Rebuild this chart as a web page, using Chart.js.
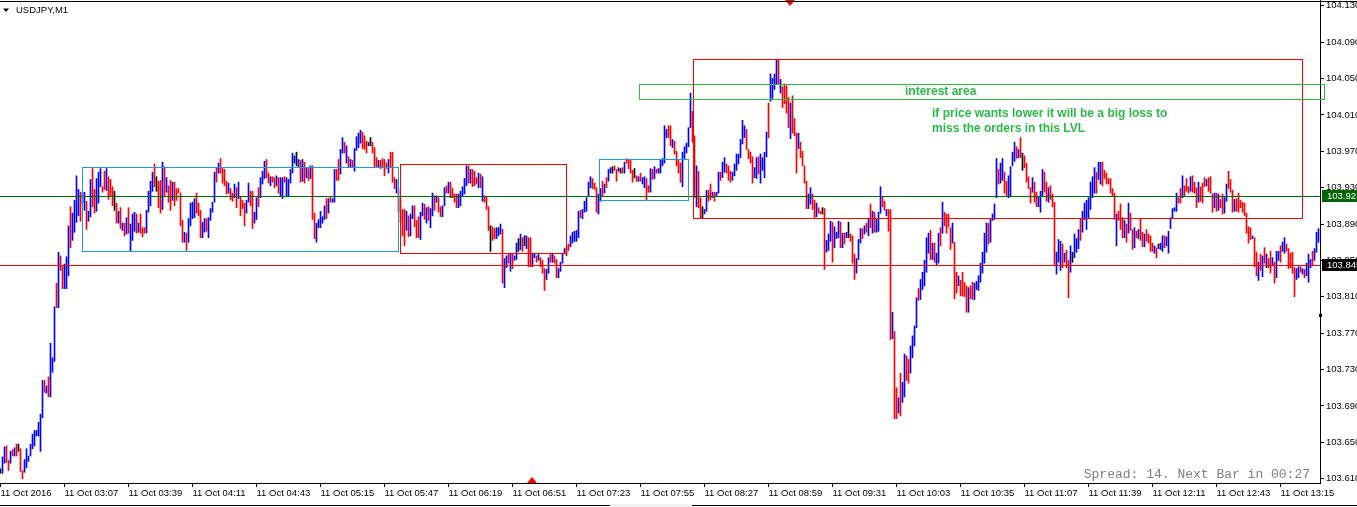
<!DOCTYPE html>
<html>
<head>
<meta charset="utf-8">
<script src="https://cdn.jsdelivr.net/npm/chart.js@4.4.1/dist/chart.umd.min.js"></script>
<style>
  html, body { margin: 0; padding: 0; background: #fff; }
  #wrap { width: 1357px; height: 507px; position: relative; }
</style>
</head>
<body>
<div id="wrap"><canvas id="Chart"></canvas></div>
<script>
// USDJPY M1, one bar per minute starting 11 Oct 2016 02:35
const timeTicks = ['11 Oct 2016','11 Oct 03:07','11 Oct 03:39','11 Oct 04:11','11 Oct 04:43','11 Oct 05:15','11 Oct 05:47',
  '11 Oct 06:19','11 Oct 06:51','11 Oct 07:23','11 Oct 07:55','11 Oct 08:27','11 Oct 08:59','11 Oct 09:31','11 Oct 10:03',
  '11 Oct 10:35','11 Oct 11:07','11 Oct 11:39','11 Oct 12:11','11 Oct 12:43','11 Oct 13:15'];
const tickEvery = 32;

const priceTicks = [104.130, 104.090, 104.050, 104.010, 103.970, 103.930, 103.890, 103.850, 103.810, 103.770, 103.730, 103.690, 103.650, 103.610];

const highs = [
  103.621,103.634,103.645,103.646,103.630,103.640,103.642,103.644,103.648,103.648,
  103.643,103.619,103.631,103.643,103.635,103.648,103.659,103.663,103.663,103.672,
  103.681,103.718,103.718,103.712,103.722,103.759,103.743,103.799,103.825,103.859,
  103.855,103.844,103.846,103.854,103.888,103.909,103.902,103.916,103.943,103.928,
  103.925,103.924,103.925,103.915,103.904,103.939,103.951,103.928,103.940,103.947,
  103.951,103.931,103.948,103.951,103.942,103.939,103.931,103.926,103.913,103.904,
  103.908,103.891,103.891,103.897,103.908,103.890,103.901,103.903,103.901,103.891,
  103.901,103.886,103.886,103.905,103.926,103.937,103.947,103.956,103.942,103.937,
  103.938,103.958,103.953,103.941,103.932,103.938,103.936,103.936,103.929,103.929,
  103.924,103.894,103.881,103.880,103.896,103.913,103.914,103.918,103.924,103.913,
  103.905,103.892,103.896,103.896,103.897,103.907,103.914,103.947,103.952,103.957,
  103.962,103.951,103.950,103.937,103.935,103.929,103.924,103.934,103.930,103.936,
  103.920,103.916,103.913,103.916,103.935,103.926,103.926,103.903,103.919,103.930,
  103.941,103.948,103.959,103.961,103.946,103.942,103.942,103.941,103.943,103.941,
  103.941,103.941,103.942,103.941,103.939,103.950,103.968,103.965,103.969,103.961,
  103.960,103.961,103.958,103.952,103.951,103.954,103.954,103.902,103.891,103.895,
  103.904,103.898,103.910,103.918,103.918,
  103.920,103.918,103.950,103.950,103.961,103.972,103.985,103.980,103.976,103.964,
  103.961,103.960,103.973,103.986,103.990,103.993,103.991,103.987,103.981,103.980,
  103.985,103.980,103.974,103.963,103.960,103.960,103.962,103.961,103.957,103.961,
  103.969,103.969,103.941,103.939,103.929,103.918,103.906,103.906,103.904,103.899,
  103.901,103.910,103.910,103.894,103.898,103.903,103.913,103.912,103.908,103.909,
  103.907,103.924,103.921,103.921,103.919,103.909,103.910,103.930,103.932,103.936,
  103.936,103.929,103.923,103.923,103.923,103.926,103.931,103.940,103.954,103.954,
  103.950,103.950,103.948,103.941,103.946,103.945,103.942,103.921,103.920,103.909,
  103.888,103.887,103.885,103.886,103.886,103.890,103.884,103.852,103.855,103.858,
  103.857,103.858,103.855,103.869,103.874,103.879,103.875,103.877,103.877,103.875,
  103.875,103.858,103.857,103.855,103.858,103.853,103.850,103.841,103.840,103.853,
  103.858,103.857,103.855,103.851,103.841,103.848,103.858,103.863,103.865,103.868,
  103.877,103.881,103.882,103.883,103.904,103.905,103.906,103.915,103.919,103.936,
  103.942,103.940,103.935,103.930,103.923,103.929,103.937,103.934,103.941,103.950,
  103.952,103.953,103.954,103.950,103.952,103.951,103.952,103.958,103.962,103.961,
  103.960,103.949,103.951,103.943,103.942,103.946,103.941,103.942,103.940,103.932,
  103.951,103.950,103.953,103.950,103.951,
  103.961,103.962,103.998,103.994,103.998,103.998,103.983,103.981,103.970,103.960,
  103.957,103.969,103.975,103.979,103.996,104.034,104.014,103.987,103.954,103.948,
  103.919,103.909,103.906,103.927,103.927,103.934,103.925,103.925,103.925,103.947,
  103.947,103.958,103.963,103.956,103.954,103.948,103.947,103.956,103.967,103.967,
  103.983,104.004,103.998,103.994,103.972,103.969,103.964,103.952,103.963,103.964,
  103.967,103.963,103.969,103.991,104.023,104.055,104.050,104.055,104.070,104.071,
  104.049,104.041,104.044,104.042,104.029,104.023,104.031,104.006,103.990,103.990,
  103.980,103.970,103.954,103.937,103.923,103.930,103.923,103.916,103.913,103.908,
  103.904,103.908,103.907,103.872,103.879,103.893,103.892,103.887,103.881,103.893,
  103.892,103.880,103.880,103.881,103.892,103.879,103.877,103.857,103.852,103.873,
  103.885,103.885,103.888,103.891,103.896,103.912,103.904,103.903,103.895,103.903,
  103.931,103.920,103.915,103.906,103.906,103.906,103.793,103.772,103.710,103.699,
  103.726,103.716,103.747,103.745,103.741,103.756,103.767,103.778,103.809,103.819,
  103.829,103.837,103.850,103.875,103.880,103.883,103.869,103.869,103.858,103.880,
  103.886,103.914,103.903,103.901,103.901,103.886,103.891,103.870,103.837,103.833,
  103.828,103.837,103.826,103.822,103.820,103.822,103.826,103.825,103.827,103.833,
  103.847,103.859,103.880,103.891,103.891,
  103.896,103.901,103.912,103.962,103.950,103.957,103.962,103.947,103.937,103.943,
  103.953,103.969,103.980,103.975,103.972,103.985,103.968,103.965,103.957,103.942,
  103.930,103.941,103.936,103.925,103.920,103.926,103.950,103.947,103.936,103.930,
  103.932,103.923,103.914,103.859,103.873,103.871,103.868,103.858,103.861,103.850,
  103.866,103.859,103.879,103.874,103.884,103.896,103.904,103.913,103.916,103.919,
  103.936,103.942,103.952,103.947,103.958,103.958,103.958,103.949,103.946,103.940,
  103.940,103.929,103.924,103.901,103.904,103.912,103.897,103.894,103.890,103.913,
  103.902,103.884,103.886,103.882,103.884,103.896,103.881,103.879,103.884,103.879,
  103.877,103.869,103.866,103.864,103.868,103.869,103.877,103.877,103.876,103.882,
  103.897,103.907,103.908,103.924,103.919,103.929,103.943,103.932,103.940,103.931,
  103.942,103.943,103.936,103.930,103.936,103.931,103.935,103.941,103.939,103.941,
  103.942,103.923,103.924,103.924,103.923,103.917,103.923,103.919,103.934,103.948,
  103.939,103.927,103.917,103.918,103.924,103.916,103.914,103.913,103.902,103.887,
  103.886,103.877,103.875,103.859,103.848,103.857,103.855,103.864,103.857,103.852,
  103.860,103.853,103.848,103.860,103.860,103.866,103.870,103.875,103.868,103.863,
  103.858,103.859,103.842,103.841,103.843,103.843,103.841,103.840,103.847,103.857,
  103.851,103.860,103.863,103.881,103.885
];

const lows = [
  103.616,103.616,103.627,103.628,103.619,103.627,103.635,103.635,103.635,103.640,
  103.618,103.610,103.617,103.622,103.629,103.635,103.643,103.646,103.657,103.657,
  103.640,103.677,103.705,103.704,103.700,103.700,103.727,103.739,103.798,103.798,
  103.839,103.819,103.819,103.819,103.833,103.864,103.872,103.881,103.892,103.899,
  103.893,103.913,103.905,103.884,103.893,103.898,103.909,103.902,103.904,103.913,
  103.931,103.925,103.928,103.927,103.917,103.920,103.910,103.905,103.891,103.891,
  103.885,103.883,103.877,103.879,103.880,103.860,103.872,103.882,103.880,103.881,
  103.880,103.876,103.880,103.880,103.903,103.910,103.926,103.931,103.926,103.908,
  103.902,103.906,103.921,103.925,103.914,103.905,103.916,103.910,103.916,103.924,
  103.888,103.870,103.870,103.861,103.870,103.888,103.896,103.897,103.902,103.899,
  103.875,103.875,103.881,103.882,103.875,103.894,103.903,103.914,103.936,103.946,
  103.946,103.935,103.932,103.923,103.924,103.917,103.915,103.919,103.908,103.918,
  103.899,103.907,103.888,103.902,103.914,103.910,103.885,103.891,103.895,103.909,
  103.919,103.934,103.940,103.941,103.935,103.932,103.936,103.930,103.932,103.924,
  103.921,103.918,103.936,103.921,103.920,103.935,103.946,103.957,103.954,103.953,
  103.936,103.937,103.935,103.941,103.938,103.940,103.895,103.874,103.870,103.886,
  103.886,103.891,103.895,103.896,103.902,
  103.914,103.914,103.914,103.938,103.938,103.945,103.968,103.968,103.957,103.953,
  103.953,103.952,103.948,103.971,103.974,103.979,103.973,103.972,103.968,103.976,
  103.976,103.968,103.953,103.953,103.952,103.951,103.953,103.943,103.951,103.946,
  103.952,103.936,103.929,103.924,103.903,103.892,103.877,103.866,103.883,103.876,
  103.877,103.896,103.887,103.875,103.875,103.873,103.899,103.895,103.891,103.894,
  103.886,103.899,103.905,103.914,103.903,103.898,103.898,103.910,103.924,103.924,
  103.919,103.919,103.914,103.908,103.908,103.910,103.920,103.923,103.932,103.935,
  103.935,103.931,103.932,103.934,103.930,103.930,103.915,103.914,103.906,103.883,
  103.860,103.872,103.874,103.874,103.877,103.879,103.825,103.820,103.842,103.847,
  103.838,103.841,103.850,103.851,103.860,103.862,103.860,103.866,103.863,103.843,
  103.843,103.843,103.853,103.848,103.850,103.843,103.836,103.817,103.829,103.836,
  103.848,103.848,103.847,103.831,103.831,103.838,103.847,103.858,103.855,103.861,
  103.865,103.869,103.871,103.871,103.875,103.897,103.896,103.903,103.904,103.920,
  103.930,103.929,103.928,103.903,103.901,103.915,103.920,103.924,103.930,103.937,
  103.946,103.946,103.949,103.937,103.948,103.946,103.946,103.946,103.957,103.951,
  103.946,103.936,103.941,103.937,103.937,103.937,103.934,103.930,103.916,103.925,
  103.925,103.939,103.940,103.946,103.946,
  103.946,103.954,103.957,103.985,103.985,103.976,103.974,103.967,103.954,103.946,
  103.936,103.931,103.962,103.968,103.975,103.996,103.980,103.919,103.909,103.908,
  103.897,103.897,103.901,103.904,103.915,103.917,103.919,103.915,103.920,103.924,
  103.938,103.941,103.947,103.946,103.938,103.936,103.938,103.943,103.949,103.956,
  103.963,103.978,103.985,103.972,103.962,103.957,103.935,103.941,103.940,103.945,
  103.935,103.949,103.941,103.964,103.985,104.025,104.028,104.038,104.044,104.044,
  104.034,104.018,104.022,104.012,103.996,103.984,103.990,103.987,103.946,103.973,
  103.963,103.954,103.935,103.907,103.907,103.912,103.906,103.897,103.898,103.902,
  103.901,103.901,103.840,103.859,103.861,103.871,103.848,103.864,103.874,103.875,
  103.864,103.864,103.868,103.875,103.875,103.871,103.847,103.829,103.836,103.851,
  103.869,103.874,103.879,103.881,103.877,103.886,103.880,103.881,103.881,103.882,
  103.902,103.909,103.905,103.899,103.882,103.763,103.764,103.676,103.676,103.682,
  103.679,103.694,103.700,103.718,103.715,103.726,103.743,103.756,103.776,103.806,
  103.807,103.818,103.822,103.837,103.858,103.851,103.851,103.848,103.844,103.847,
  103.866,103.880,103.888,103.880,103.887,103.862,103.869,103.808,103.814,103.822,
  103.811,103.811,103.810,103.793,103.793,103.808,103.807,103.807,103.818,103.817,
  103.826,103.836,103.847,103.859,103.868,
  103.870,103.894,103.895,103.919,103.934,103.935,103.938,103.924,103.920,103.919,
  103.920,103.954,103.959,103.962,103.963,103.963,103.949,103.952,103.936,103.929,
  103.913,103.925,103.914,103.909,103.909,103.903,103.920,103.925,103.915,103.914,
  103.917,103.909,103.844,103.835,103.848,103.839,103.842,103.848,103.842,103.809,
  103.837,103.848,103.853,103.859,103.863,103.872,103.881,103.895,103.884,103.896,
  103.906,103.919,103.924,103.924,103.939,103.934,103.932,103.940,103.934,103.934,
  103.924,103.921,103.895,103.866,103.894,103.884,103.875,103.875,103.870,103.880,
  103.883,103.862,103.864,103.875,103.874,103.872,103.865,103.865,103.871,103.869,
  103.860,103.860,103.858,103.853,103.863,103.862,103.860,103.864,103.866,103.858,
  103.885,103.897,103.904,103.904,103.913,103.913,103.919,103.921,103.926,103.924,
  103.926,103.925,103.924,103.908,103.914,103.915,103.913,103.931,103.932,103.926,
  103.924,103.903,103.908,103.904,103.905,103.908,103.901,103.902,103.915,103.929,
  103.925,103.903,103.904,103.904,103.903,103.908,103.903,103.899,103.880,103.869,
  103.873,103.874,103.843,103.833,103.828,103.839,103.832,103.847,103.842,103.842,
  103.836,103.844,103.825,103.831,103.850,103.848,103.860,103.858,103.860,103.841,
  103.842,103.836,103.810,103.829,103.831,103.837,103.835,103.831,103.833,103.826,
  103.842,103.844,103.850,103.859,103.870
];

// bar direction: u = up (blue), d = down (red), n = unchanged (black)
const dirs = [
  'nuuddududn','dduuuuuuuu','uududuuudu','dduuuduuuu','duuduudduu','uddudddndu','dududuuudu','ddduuuudnd',
  'dududduddd','dduduuuudd','duuduuuudu','dddduddudu','ddduudduud','uuudduddud','uuduuuuunu','dudududduu','uuudu',
  'duudduudud','uduuuudddu','nddduddddu','ddduddddud','uuddduudud','uududduudu','dddduuuuud','udddududdd',
  'ndduuuduud','uduunudnud','duududdduu','dudduuuudd','uuuuuduuuu','uddduududu','unddundudd','ddnduduudd','ududu',
  'uuuudduddd','duuuuuddud','dnuudduduu','duuddduuuu','uuudddduud','uuuuduuuud','uddddudddu','dddduuddud',
  'dnduuuduuu','dudunddduu','ududududuu','uddudduddu','duudduuuud','uuuuududuu','dudddduddu','ddddudduuu','uuuud',
  'uuuuduuddu','uuududnddd','dudduuuddu','ddduuududd','unuuuduuuu','uuuduudddd','dddudddudu','ddududdudd',
  'ddudnuuduu','uuuudduddd','udddudddud','ddududduud','dduddddddd','duddududud','duduuduudd','ddduududuu','uduuu'
].join('').split('');

if (highs.length !== lows.length || highs.length !== dirs.length) {
  throw new Error('length mismatch ' + highs.length + ' ' + lows.length + ' ' + dirs.length);
}

// horizontal levels (bid line and a drawn level)
const levelPrices = [103.921, 103.845];

// rectangles drawn on the chart: bar index range and price range
const boxFrom   = [41, 200, 299.5, 346.5, 319.5];
const boxTo     = [199, 283, 344, 651, 662];
const boxTop    = [103.953, 103.956, 103.962, 104.071, 104.044];
const boxBottom = [103.860, 103.858, 103.916, 103.897, 104.028];

const notes = ['interest area', 'if price wants lower it will be a big loss to', 'miss the orders in this LVL'];
const noteAt = [452.25, 465.75, 465.75];
const notePrice = [104.035, 104.0115, 103.9945];

const barColors = { u: '#0000ff', d: '#ff0000', n: '#000000' };
const boxColors = ['#1f9ad6', '#ff0000', '#1f9ad6', '#ff0000', '#2db84a'];
const levelColors = ['#006400', '#ff0000'];
const levelBoxColors = ['#006400', '#000000'];

Chart.defaults.font.family = 'Liberation Sans';

const overlay = {
  id: 'overlay',
  afterDraw(chart) {
    const { ctx, scales: { x, y } } = chart;
    const W = chart.width;
    const px = v => Math.floor(x.getPixelForValue(v)) + 0.5;
    const py = v => Math.round(y.getPixelForValue(v)) + 0.5;
    ctx.save();
    ctx.lineWidth = 1;

    levelPrices.forEach((p, k) => {
      ctx.strokeStyle = levelColors[k];
      ctx.beginPath();
      ctx.moveTo(0, py(p));
      ctx.lineTo(x.right, py(p));
      ctx.stroke();
    });

    boxFrom.forEach((f, k) => {
      ctx.strokeStyle = boxColors[k];
      ctx.strokeRect(px(f), py(boxTop[k]), px(boxTo[k]) - px(f), py(boxBottom[k]) - py(boxTop[k]));
    });

    ctx.fillStyle = '#2db84a';
    ctx.textBaseline = 'middle';
    ctx.textAlign = 'left';
    ctx.font = 'bold 12px "Liberation Sans"';
    notes.forEach((t, k) => ctx.fillText(t, x.getPixelForValue(noteAt[k]), y.getPixelForValue(notePrice[k])));

    // price labels on the axis
    ctx.font = '9.5px "Liberation Sans"';
    levelPrices.forEach((p, k) => {
      const yy = Math.round(y.getPixelForValue(p));
      ctx.fillStyle = levelBoxColors[k];
      ctx.fillRect(x.right + 2, yy - 6, W - x.right - 2, 12);
      ctx.fillStyle = '#ffffff';
      ctx.fillText(p.toFixed(3), x.right + 7, yy + 0.5);
    });

    // title
    ctx.fillStyle = '#000';
    ctx.beginPath();
    ctx.moveTo(3, 8.5); ctx.lineTo(9, 8.5); ctx.lineTo(6, 12); ctx.closePath(); ctx.fill();
    ctx.font = '9.5px "Liberation Sans"';
    ctx.fillText('USDJPY,M1', 16, 10);

    // spread info
    ctx.fillStyle = '#808080';
    ctx.textAlign = 'right';
    ctx.font = '13px "Liberation Mono"';
    ctx.fillText('Spread: 14. Next Bar in 00:27', x.right - 10, y.bottom - 8);

    // shift markers
    ctx.fillStyle = '#ff0000';
    const tx = x.getPixelForValue(394.75);
    ctx.beginPath(); ctx.moveTo(tx - 5, 0); ctx.lineTo(tx + 5, 0); ctx.lineTo(tx, 6); ctx.closePath(); ctx.fill();
    const bx = x.getPixelForValue(265.75);
    ctx.beginPath(); ctx.moveTo(bx - 5, y.bottom); ctx.lineTo(bx + 5, y.bottom); ctx.lineTo(bx, y.bottom - 6); ctx.closePath(); ctx.fill();
    ctx.fillStyle = '#000';
    ctx.fillRect(x.right - 1, Math.round(y.getPixelForValue(103.790)) - 1, 3, 3);

    // window frame
    ctx.fillRect(0, 1, W, 1);
    ctx.fillRect(0, chart.height - 2, W, 1);
    ctx.fillStyle = '#f0f0f0';
    ctx.fillRect(610, chart.height - 3, 82, 3);
    ctx.restore();
  }
};

const ctx = document.getElementById('Chart').getContext('2d');

new Chart(ctx, {
  type: 'bar',
  data: {
    datasets: [{
      data: highs.map((h, i) => ({ x: i, y: [lows[i], h] })),
      backgroundColor: dirs.map(d => barColors[d]),
      barThickness: 1,
      borderWidth: 0
    }]
  },
  options: {
    responsive: true,
    maintainAspectRatio: false,
    animation: false,
    layout: { padding: 0 },
    plugins: {
      legend: { display: false },
      tooltip: { enabled: false }
    },
    scales: {
      x: {
        type: 'linear',
        offset: false,
        min: -0.25,
        max: highs.length - 0.25,
        grid: { offset: false, drawOnChartArea: false, drawTicks: true, tickLength: 4, color: '#000' },
        border: { color: '#000' },
        ticks: {
          align: 'start',
          autoSkip: false,
          maxRotation: 0,
          padding: 1,
          color: '#000',
          font: { size: 9.5 },
          callback: (v, i) => timeTicks[i]
        },
        afterBuildTicks: s => { s.ticks = timeTicks.map((t, i) => ({ value: i * tickEvery })); },
        afterFit: s => { s.height = 24; s.paddingLeft = 0; s.paddingRight = 0; }
      },
      y: {
        position: 'right',
        min: 103.6053,
        max: 104.1363,
        grid: { drawOnChartArea: false, drawTicks: true, tickLength: 4, color: '#000' },
        border: { color: '#000' },
        ticks: {
          padding: 2,
          color: '#000',
          font: { size: 9.5 },
          callback: v => v.toFixed(3)
        },
        afterBuildTicks: s => { s.ticks = priceTicks.map(v => ({ value: v })); },
        afterFit: s => { s.width = 37; s.paddingTop = 0; s.paddingBottom = 0; }
      }
    }
  },
  plugins: [overlay]
});
</script>
</body>
</html>
